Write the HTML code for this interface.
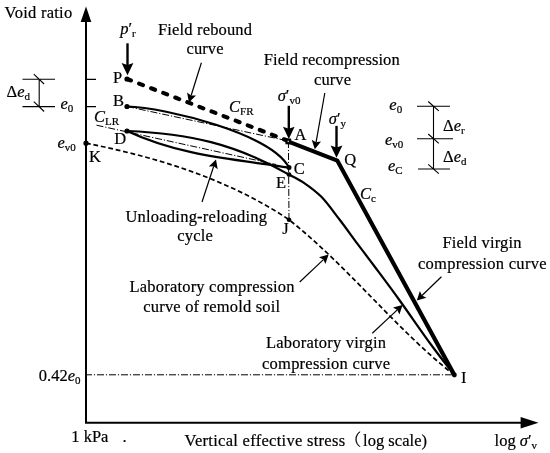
<!DOCTYPE html>
<html>
<head>
<meta charset="utf-8">
<title>Void ratio - log stress</title>
<style>
html,body{margin:0;padding:0;background:#fff;}
body{width:550px;height:453px;overflow:hidden;}
svg{display:block;}
text{font-family:"Liberation Serif","Noto Serif CJK SC",serif;font-size:16.5px;fill:#000;stroke:#000;stroke-width:0.2px;}
.i{font-style:italic;}
.s{font-size:11px;}
</style>
</head>
<body>
<svg width="550" height="453" viewBox="0 0 550 453">
<rect width="550" height="453" fill="#fff"/>
<g fill="none" stroke="#000" stroke-linecap="butt">
<!-- axes -->
<path d="M86 20V422.700H525" stroke-width="2"/>
<path d="M86 6.500L91.300 22H80.700Z" fill="#000" stroke="none"/>
<path d="M538.500 422.700L520.600 416.900V428.500Z" fill="#000" stroke="none"/>
<!-- ticks -->
<path d="M86 79.400H96M86 106.600H96" stroke-width="1.1"/>
<!-- delta e_d left bracket -->
<path d="M22.500 79.200H55M22.500 106.600H55M39.200 79V106.500M33.800 74.200L44.100 84M33.800 101.700L44.100 111.500" stroke-width="1.1"/>
<!-- right bracket -->
<path d="M417 106.200H450M417 138.700H453M418 169H450M433.500 106.200V169M428.200 101.500L438.800 110.900M428.200 134L438.800 143.400M428.200 164.300L438.800 173.700" stroke-width="1.1"/>
<!-- horizontal dash-dot 0.42e0 -->
<path d="M85 374.800H453" stroke-width="1" stroke-dasharray="7 1.9 1.2 1.9"/>
<!-- vertical dash-dot A-J -->
<path d="M288.400 141L289 219.500" stroke-width="1" stroke-dasharray="7 1.9 1.2 1.9"/>
<!-- C_LR dash-dot line -->
<path d="M96.500 125.200L276 164.500" stroke-width="1" stroke-dasharray="7 1.9 1.2 1.9"/>
<!-- B-A dash-dot line -->
<path d="M127 106.500L288.500 141" stroke-width="1" stroke-dasharray="7 1.9 1.2 1.9"/>
<!-- remold dashed curve K..I -->
<path d="M86 143.2C155.2 156.900 227.5 178.500 289 219.7C348 266.2 398.3 331.8 454.4 375" stroke-width="1.7" stroke-dasharray="4.8 2.8"/>
<!-- Field rebound thick dashed P-A -->
<path d="M127 79L288.500 141" stroke-width="4.1" stroke-dasharray="4.2 8.73" stroke-linecap="round"/>
<!-- B to C curve -->
<path d="M127 106.5C166 107.5 271.3 133.9 289 167.6" stroke-width="2.2"/>
<path d="M127 131C189 133.500 235 143.7 289 174.6C291.4 175.9 297.8 178.6 303.2 182.3C308.6 186.0 315.3 190.6 321.4 196.8C327.4 203.0 333.4 211.6 339.5 219.5C345.6 227.4 351.9 236.4 357.7 244.2C363.5 251.9 367.2 256.6 374.2 266.0C381.2 275.4 390.2 287.3 399.7 300.5C409.2 313.7 422.2 332.6 431.3 345.0C440.4 357.4 450.5 370.0 454.4 375.0" stroke-width="2.2"/>
<path d="M289 167.6C236 159.3 180.8 156.2 127 131" stroke-width="2.2"/>
<!-- field recompression A-Q, Q-I -->
<path d="M288.500 141.600L337.300 160.600L454.400 375" stroke-width="4.2" stroke-linejoin="miter"/>
</g>
<!-- points -->
<g fill="#000">
<circle cx="127" cy="79" r="2.6"/>
<circle cx="127" cy="106.5" r="2.6"/>
<circle cx="127" cy="131" r="2.6"/>
<circle cx="86" cy="143.200" r="2.6"/>
<circle cx="289" cy="167.600" r="2.5"/>
<circle cx="289" cy="174.600" r="2.4"/>
<circle cx="289" cy="219.700" r="2.3"/>
<circle cx="454.400" cy="375" r="2.400"/>
<rect x="286.500" y="139.600" width="3.600" height="3.600" fill="#bbb" stroke="#000" stroke-width="2.2"/>
</g>
<!-- arrows -->
<g stroke="#000" fill="none">
<path d="M127.500 43.300V65" stroke-width="2.4"/>
<path d="M288.800 105.800V129" stroke-width="2.4"/>
<path d="M336.500 125.900V148" stroke-width="2.4"/>
</g>
<g fill="#000">
<path d="M127.500 75.200L121.600 63L127.500 65L133.400 63Z"/>
<path d="M288.800 139L283 126.800L288.800 128.800L294.600 126.800Z"/>
<path d="M336.500 157.800L330.600 145.600L336.500 147.600L342.400 145.600Z"/>
</g>
<path d="M201.4 62.8L191.1 95.5" stroke="#000" stroke-width="1.2" fill="none"/><path d="M188.9 102.4L187.1 92.6L191.1 95.5L196.0 95.4Z" fill="#000"/>
<path d="M324.8 93.0L316.1 142.2" stroke="#000" stroke-width="1.2" fill="none"/><path d="M314.8 149.3L311.7 139.8L316.1 142.2L321.0 141.5Z" fill="#000"/>
<path d="M202.0 202.0L213.7 166.3" stroke="#000" stroke-width="1.2" fill="none"/><path d="M216.0 159.5L217.7 169.3L213.7 166.3L208.8 166.4Z" fill="#000"/>
<path d="M299.7 282.0L323.4 259.6" stroke="#000" stroke-width="1.2" fill="none"/><path d="M328.6 254.6L325.4 264.1L323.4 259.6L319.0 257.2Z" fill="#000"/>
<path d="M372.3 333.2L397.3 309.9" stroke="#000" stroke-width="1.2" fill="none"/><path d="M402.6 305.0L399.4 314.4L397.3 309.9L393.0 307.6Z" fill="#000"/>
<path d="M441.4 276.8L422.0 295.5" stroke="#000" stroke-width="1.2" fill="none"/><path d="M416.8 300.5L419.9 291.0L422.0 295.5L426.4 297.8Z" fill="#000"/>
<!-- text -->
<text x="4.600" y="17.800" textLength="67.600">Void ratio</text>
<text x="113" y="82.500">P</text>
<text x="113" y="105.500">B</text>
<text x="114.300" y="144.300">D</text>
<text x="89" y="162">K</text>
<text x="294.500" y="139.800">A</text>
<text x="293.800" y="174">C</text>
<text x="276" y="188.200">E</text>
<text x="282.300" y="233.800">J</text>
<text x="344.200" y="165.400">Q</text>
<text x="461" y="383">I</text>
<text x="120.200" y="34.200"><tspan class="i">p</tspan>′<tspan class="s" dy="3">r</tspan></text>
<text x="158" y="34.500" textLength="94">Field rebound</text>
<text x="186.500" y="53.500" textLength="37">curve</text>
<text x="263.700" y="64.800" textLength="136">Field recompression</text>
<text x="314" y="84.500" textLength="37">curve</text>
<text x="277.700" y="101.100"><tspan class="i">σ</tspan>′<tspan class="s" dy="3">v0</tspan></text>
<text x="328.800" y="124.300"><tspan class="i">σ</tspan>′<tspan class="s" dy="3">y</tspan></text>
<text x="389.300" y="109.600"><tspan class="i">e</tspan><tspan class="s" dy="3">0</tspan></text>
<text x="385" y="145"><tspan class="i">e</tspan><tspan class="s" dy="3">v0</tspan></text>
<text x="388" y="171.400"><tspan class="i">e</tspan><tspan class="s" dy="3">C</tspan></text>
<text x="443" y="131">Δ<tspan class="i">e</tspan><tspan class="s" dy="3">r</tspan></text>
<text x="443" y="161.700">Δ<tspan class="i">e</tspan><tspan class="s" dy="3">d</tspan></text>
<text x="6.500" y="96.500">Δ<tspan class="i">e</tspan><tspan class="s" dy="3">d</tspan></text>
<text x="60.500" y="109"><tspan class="i">e</tspan><tspan class="s" dy="3">0</tspan></text>
<text x="57.500" y="148.300"><tspan class="i">e</tspan><tspan class="s" dy="3">v0</tspan></text>
<text x="229" y="112"><tspan class="i">C</tspan><tspan class="s" dy="3">FR</tspan></text>
<text x="94" y="121.700"><tspan class="i">C</tspan><tspan class="s" dy="3">LR</tspan></text>
<text x="360" y="199.300"><tspan class="i">C</tspan><tspan class="s" dy="3">c</tspan></text>
<text x="125.400" y="222.400" textLength="141.600">Unloading-reloading</text>
<text x="177.200" y="241.300" textLength="35.600">cycle</text>
<text x="129.500" y="291.700" textLength="165">Laboratory compression</text>
<text x="143.300" y="311.500" textLength="136.800">curve of remold soil</text>
<text x="266" y="348" textLength="120">Laboratory virgin</text>
<text x="262" y="368.800" textLength="128">compression curve</text>
<text x="442.500" y="248.300" textLength="79">Field virgin</text>
<text x="418" y="268.600" textLength="128.500">compression curve</text>
<text x="38.800" y="380.500">0.42<tspan class="i">e</tspan><tspan class="s" dy="3">0</tspan></text>
<text x="71.300" y="441.700">1 kPa</text>
<text x="122.500" y="441.700">.</text>
<text x="184.500" y="446.400" textLength="160.600">Vertical effective stress</text>
<text x="344.800" y="446.400">（</text>
<text x="363" y="446.400" textLength="64">log scale)</text>
<text x="494.600" y="446.200">log <tspan class="i">σ</tspan>′<tspan class="s" dy="3">v</tspan></text>
</svg>
</body>
</html>
